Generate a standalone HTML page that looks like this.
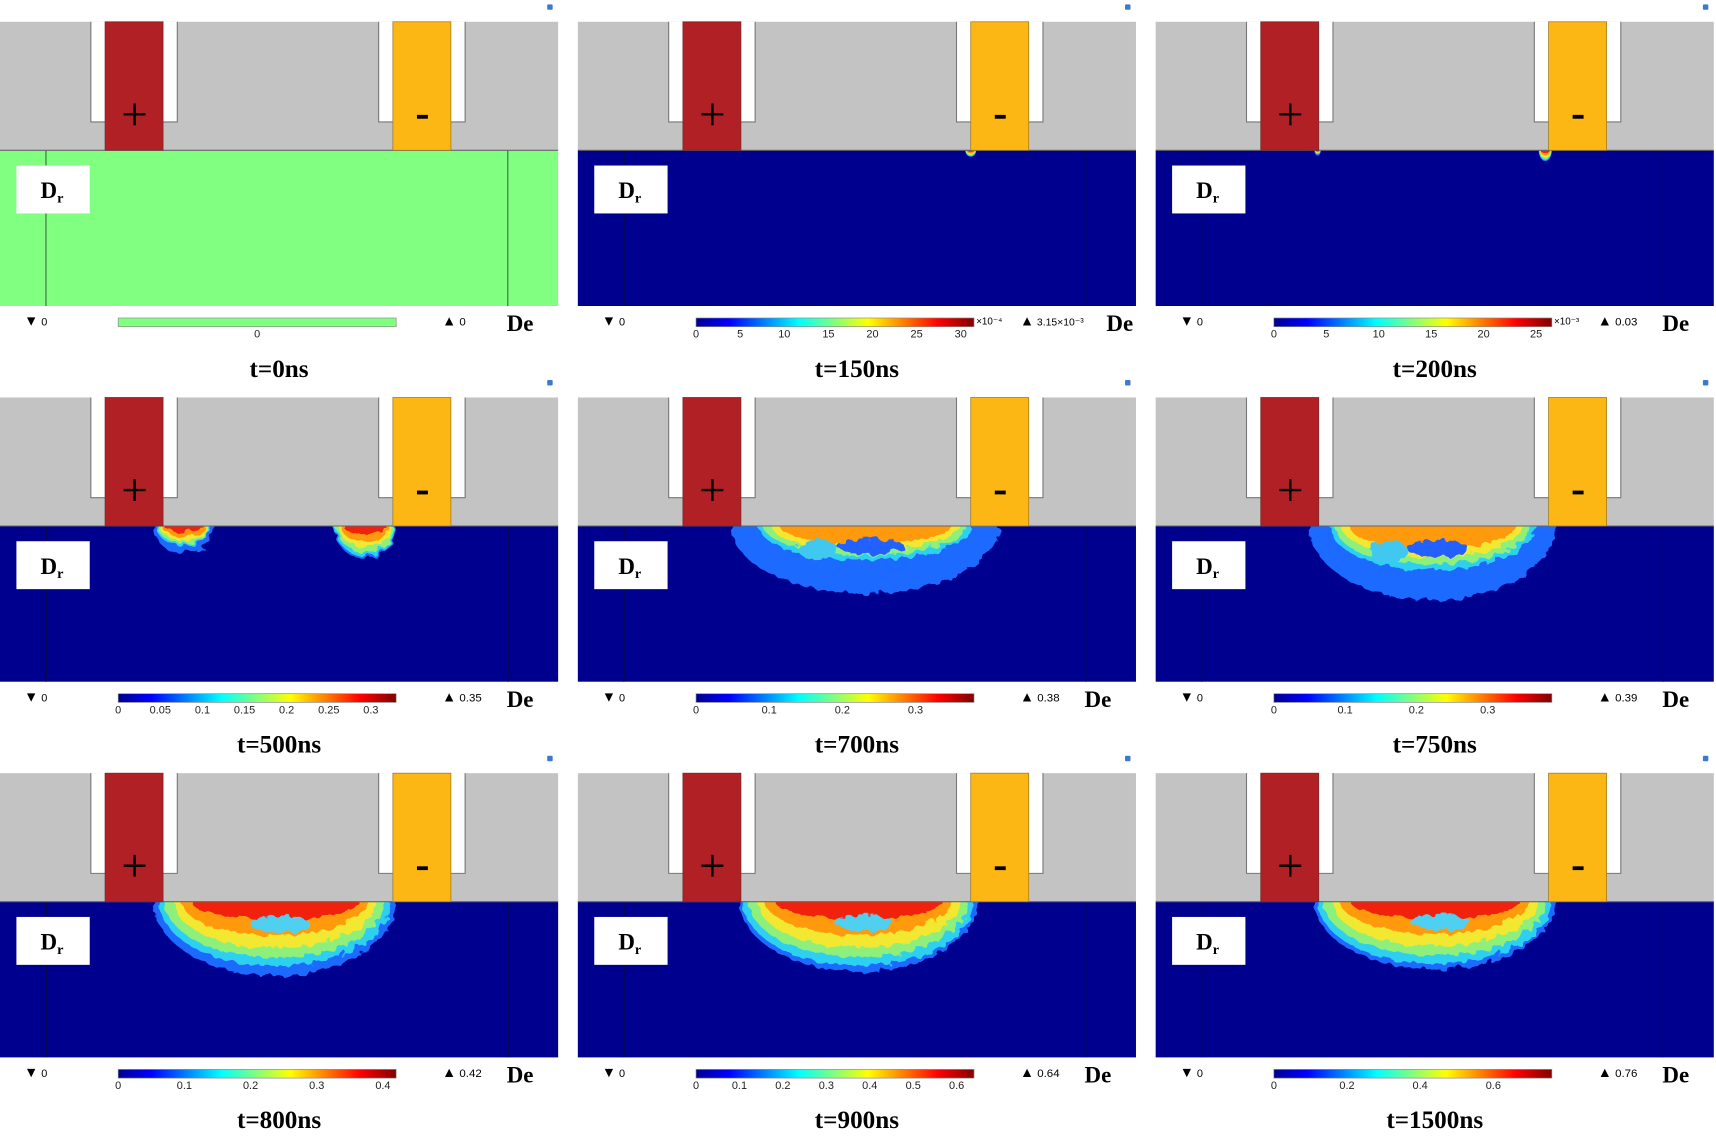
<!DOCTYPE html>
<html><head><meta charset="utf-8"><style>
html,body{margin:0;padding:0;background:#fff;width:1716px;height:1138px;overflow:hidden}
svg{display:block}
</style></head><body>
<svg id="fig" width="1716" height="1138" viewBox="0 0 1568 1045" preserveAspectRatio="none" xmlns="http://www.w3.org/2000/svg">
<defs>
<linearGradient id="jet" x1="0" x2="1" y1="0" y2="0">
<stop offset="0" stop-color="#00008f"/><stop offset="0.12" stop-color="#0000ff"/><stop offset="0.37" stop-color="#00ffff"/><stop offset="0.62" stop-color="#ffff00"/><stop offset="0.87" stop-color="#ff0000"/><stop offset="1" stop-color="#800000"/>
</linearGradient>
<filter id="rough" x="-10%" y="-10%" width="120%" height="120%">
<feTurbulence type="fractalNoise" baseFrequency="0.12" numOctaves="2" seed="3"/>
<feDisplacementMap in="SourceGraphic" scale="9"/>
</filter>
</defs>
</svg>
<script>
// panel data
const panelTitles = ["t=0ns","t=150ns","t=200ns","t=500ns","t=700ns","t=750ns","t=800ns","t=900ns","t=1500ns"];
const maxLabels = ["0","3.15×10⁻³","0.03","0.35","0.38","0.39","0.42","0.64","0.76"];
const scaleMax = [1, 31.5, 26.5, 0.33, 0.38, 0.39, 0.42, 0.64, 0.76];
const tickValues = [[0],[0,5,10,15,20,25,30],[0,5,10,15,20,25],[0,0.05,0.1,0.15,0.2,0.25,0.3],[0,0.1,0.2,0.3],[0,0.1,0.2,0.3],[0,0.1,0.2,0.3,0.4],[0,0.1,0.2,0.3,0.4,0.5,0.6],[0,0.2,0.4,0.6]];
const tickLabels = [["0"],["0","5","10","15","20","25","30"],["0","5","10","15","20","25"],["0","0.05","0.1","0.15","0.2","0.25","0.3"],["0","0.1","0.2","0.3"],["0","0.1","0.2","0.3"],["0","0.1","0.2","0.3","0.4"],["0","0.1","0.2","0.3","0.4","0.5","0.6"],["0","0.2","0.4","0.6"]];
const exponentLabels = ["","×10⁻⁴","×10⁻³","","","","","",""];
// plumes: panel, left x, right x, depth, intensity (0-1)
const plumePanel = [1,2,2,3,3,4,5,6,7,8];
const plumeLeft  = [354,145,350,140,305,140,140,140,148,145];
const plumeRight = [364,151,362,195,362,385,365,362,365,365];
const plumeDepth = [6,5,10,25,30,62,68,68,64,62];
const plumeIntensity = [1,0.8,1,0.8,1,0.55,0.65,0.95,1,1];

const NS="http://www.w3.org/2000/svg";
const svg=document.getElementById('fig');
function mk(tag,attrs,parent){const e=document.createElementNS(NS,tag);for(const k in attrs)e.setAttribute(k,attrs[k]);(parent||svg).appendChild(e);return e;}
const colX=[0,528,1056], rowY=[0,345,690];
const domTop=138, domBot=281;
function xScale(v,i){return 108+254*v/scaleMax[i];}

for(let i=0;i<9;i++){
  const g=mk('g',{transform:`translate(${colX[i%3]},${rowY[Math.floor(i/3)]})`});
  
  
  const gray=mk('rect',{x:0,y:20,width:510,height:118,fill:'#c3c3c3'},g);
  
  [[83,162],[346,425]].forEach(s=>{mk('path',{d:`M${s[0]} 20 V112 H${s[1]} V20`,fill:'#fff',stroke:'#777','stroke-width':1},g);});
  const dom=mk('rect',{x:0,y:domTop,width:510,height:domBot-domTop,fill:i===0?'#80ff80':'#00008f'},g);
  
  [42,464].forEach(x=>mk('line',{x1:x,x2:x,y1:domTop,y2:domBot,stroke:i===0?'#3a6a3a':'#111','stroke-width':1},g));
  // plumes
  const clip=mk('clipPath',{id:'clip'+i},g);
  mk('rect',{x:0,y:domTop,width:510,height:domBot-domTop},clip);
  for(let p=0;p<plumePanel.length;p++){
    if(plumePanel[p]!==i) continue;
    const cx=(plumeLeft[p]+plumeRight[p])/2, rx=(plumeRight[p]-plumeLeft[p])/2, ry=plumeDepth[p], s=plumeIntensity[p];
    const layers=[[1,'#1e6bff',1],[0.92,'#2fd0f0',0.97],[0.8,'#8ef07a',0.92],[0.66,'#f2e830',0.85],[0.48,'#ff9a10',0.78],[0.25,'#f02010',0.7]];
    const pg=mk('g',{'clip-path':`url(#clip${i})`},g);
    
    const rough=mk('g',{filter:ry>20?'url(#rough)':''},pg);
    layers.forEach((l,k)=>{
      const f=k===0?1:l[0]*s;
      if(k>0 && f<0.18) return;
      const a=rx*(k===0?1:l[2]*(0.6+0.4*s)), b=ry*f;
      mk('path',{d:`M${cx-a} ${domTop-6} L${cx-a} ${domTop} A${a} ${b} 0 0 0 ${cx+a} ${domTop} L${cx+a} ${domTop-6} Z`,fill:l[1]},rough);
    });
    if(ry>50){
      mk('ellipse',{cx:cx+5,cy:domTop+ry*0.3,rx:rx*0.25,ry:ry*0.12,fill:s<0.8?'#2060ff':'#50d0f0'},rough);
      if(s<0.8){mk('ellipse',{cx:cx-rx*0.35,cy:domTop+ry*0.35,rx:rx*0.15,ry:ry*0.15,fill:'#40c8f0'},rough);}
    }
  }
  mk('line',{x1:0,x2:510,y1:domTop,y2:domTop,stroke:'#666','stroke-width':1},g);
  const pos=mk('rect',{x:96,y:20,width:53,height:118,fill:'#b02024',stroke:'#7a2a2a','stroke-width':0.7},g);
  
  const neg=mk('rect',{x:359,y:20,width:53,height:118,fill:'#fdb715',stroke:'#a07a20','stroke-width':0.7},g);
  
  mk('path',{d:'M113 105 H133 M123 95 V115',stroke:'#000','stroke-width':2.2},g);
  mk('rect',{x:381,y:105.5,width:10,height:3.5,fill:'#000'},g);
  // Dr label
  const box=mk('rect',{x:15,y:152,width:67,height:44,fill:'#fff'},g);
  
  const dt=mk('text',{x:37,y:182,'font-family':'Liberation Serif, serif','font-weight':'bold','font-size':21},g);
  dt.textContent='D';
  const sub=mk('tspan',{'font-size':13,dy:4},dt);sub.textContent='r';
  // legend row
  const mn=mk('text',{x:22,y:299,'font-family':'Liberation Sans, sans-serif','font-size':10},g);
  const tri1=mk('tspan',{'font-size':13},mn);tri1.textContent='▼';
  const mnv=mk('tspan',{},mn);mnv.textContent=' 0';
  
  const bar=mk('rect',{x:108,y:292,width:254,height:8,fill:i===0?'#80ff80':'url(#jet)',stroke:'#888','stroke-width':0.6},g);
  
  tickValues[i].forEach((v,k)=>{
    const x=i===0?235:xScale(v,i);
    const t=mk('text',{x:x,y:310,'text-anchor':'middle','font-family':'Liberation Sans, sans-serif','font-size':10,fill:'#222'},g);
    t.textContent=tickLabels[i][k];
    
  });
  if(exponentLabels[i]){const e=mk('text',{x:364,y:298,'font-family':'Liberation Sans, sans-serif','font-size':9},g);e.textContent=exponentLabels[i];}
  const mx=mk('text',{x:404,y:299,'font-family':'Liberation Sans, sans-serif','font-size':i===1?9.5:10.5},g);
  const tri2=mk('tspan',{'font-size':13},mx);tri2.textContent='▲';
  const mxv=mk('tspan',{},mx);mxv.textContent=' '+maxLabels[i];
  
  const de=mk('text',{x:i===1?483:463,y:304,'font-family':'Liberation Serif, serif','font-weight':'bold','font-size':21},g);de.textContent='De';
  
  const tt=mk('text',{x:255,y:346,'text-anchor':'middle','font-family':'Liberation Serif, serif','font-weight':'bold','font-size':23},g);tt.textContent=panelTitles[i];
  
  mk('rect',{x:500,y:4,width:5,height:5,fill:'#3a7ad0',rx:1},g);
}
</script>
</body></html>
